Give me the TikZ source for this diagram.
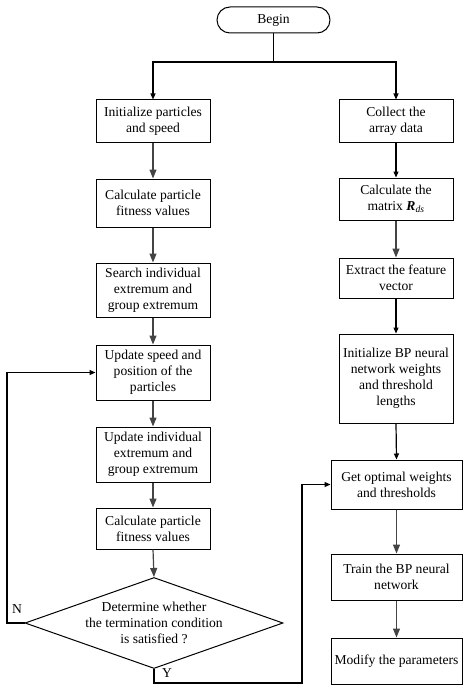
\documentclass[tikz,border=0pt]{standalone}
\usepackage{fontspec}
\setmainfont{Liberation Serif}
\usetikzlibrary{shapes.geometric,arrows.meta}
\definecolor{arrgray}{HTML}{444444}
\tikzset{
  box/.style={draw, line width=1pt, align=center, inner sep=0pt,
    font=\fontsize{13.6}{16}\selectfont},
  garrow/.style={draw=arrgray, line width=1.2pt, -{Triangle[length=9pt,width=7pt]}},
  barrow/.style={draw=black, line width=1.2pt, -{Triangle[length=6pt,width=5pt]}},
  lbl/.style={font=\fontsize{13.6}{16}\selectfont, inner sep=0pt}
}
\begin{document}
\begin{tikzpicture}[x=1pt,y=-1pt]
\useasboundingbox (0,0) rectangle (474,698);
% start
\node[box, rounded corners=13pt, minimum width=113pt, minimum height=26pt] (begin) at (273.5,20) {Begin};
% left column
\node[box, minimum width=114pt, minimum height=42pt] (l1) at (153,121) {Initialize particles\\and speed};
\node[box, minimum width=114pt, minimum height=48pt] (l2) at (153,203) {Calculate particle\\fitness values};
\node[box, minimum width=114pt, minimum height=54pt] (l3) at (153,290) {Search individual\\extremum and\\group extremum};
\node[box, minimum width=114pt, minimum height=55pt] (l4) at (153,372.5) {Update speed and\\position of the\\particles};
\node[box, minimum width=114pt, minimum height=55pt] (l5) at (153,454.5) {Update individual\\extremum and\\group extremum};
\node[box, minimum width=114pt, minimum height=41pt] (l6) at (153,528.5) {Calculate particle\\fitness values};
\node[draw, line width=1pt, diamond, minimum width=258pt, minimum height=91pt, inner sep=0pt] (dia) at (154,623) {};
\node[box, draw=none] (diatext) at (154,623) {Determine whether\\the termination condition\\is satisfied ?};
% right column
\node[box, minimum width=114pt, minimum height=42pt] (r1) at (396,121) {Collect the\\array data};
\node[box, minimum width=114pt, minimum height=42pt] (r2) at (396,199) {Calculate the\\matrix \textbf{\textit{R}}\textsubscript{\textit{ds}}};
\node[box, minimum width=114pt, minimum height=40pt] (r3) at (396,278) {Extract the feature\\vector};
\node[box, minimum width=114pt, minimum height=89pt] (r4) at (396,378.5) {Initialize BP neural\\network weights\\and threshold\\lengths};
\node[box, minimum width=131pt, minimum height=49pt] (r5) at (396.5,484.5) {Get optimal weights\\and thresholds};
\node[box, minimum width=131pt, minimum height=46pt] (r6) at (396.5,577) {Train the BP neural\\network};
\node[box, minimum width=131pt, minimum height=46pt] (r7) at (396.5,661) {Modify the parameters};
% labels
\node[lbl] (nlab) at (17,609) {N};
\node[lbl] (ylab) at (167,673) {Y};
% helper coordinates
\coordinate (split) at (273.5,62);
\coordinate (nl) at (7,623);
\coordinate (nt) at (7,372.5);
\coordinate (yb) at (154,683);
\coordinate (yr) at (302,683);
\coordinate (yt) at (302,484.5);
% connectors
\draw[line width=1.2pt] (begin.south) -- (split);
\draw[barrow] (split) -| (l1.north);
\draw[barrow] (split) -| (r1.north);
\draw[garrow] (l1) -- (l2);
\draw[garrow] (l2) -- (l3);
\draw[garrow] (l3) -- (l4);
\draw[garrow] (l4) -- (l5);
\draw[garrow] (l5) -- (l6);
\draw[garrow] (l6.south) -- (dia.north);
\draw[barrow] (r1) -- (r2);
\draw[garrow] (r2) -- (r3);
\draw[barrow] (r3) -- (r4);
\draw[barrow] (r4.south) -- (r5.north);
\draw[garrow] (r5) -- (r6);
\draw[garrow] (r6) -- (r7);
\draw[barrow] (dia.west) -- (nl) -- (nt) -- (l4.west);
\draw[barrow] (dia.south) -- (yb) -- (yr) -- (yt) -- (r5.west);
\end{tikzpicture}
\end{document}
